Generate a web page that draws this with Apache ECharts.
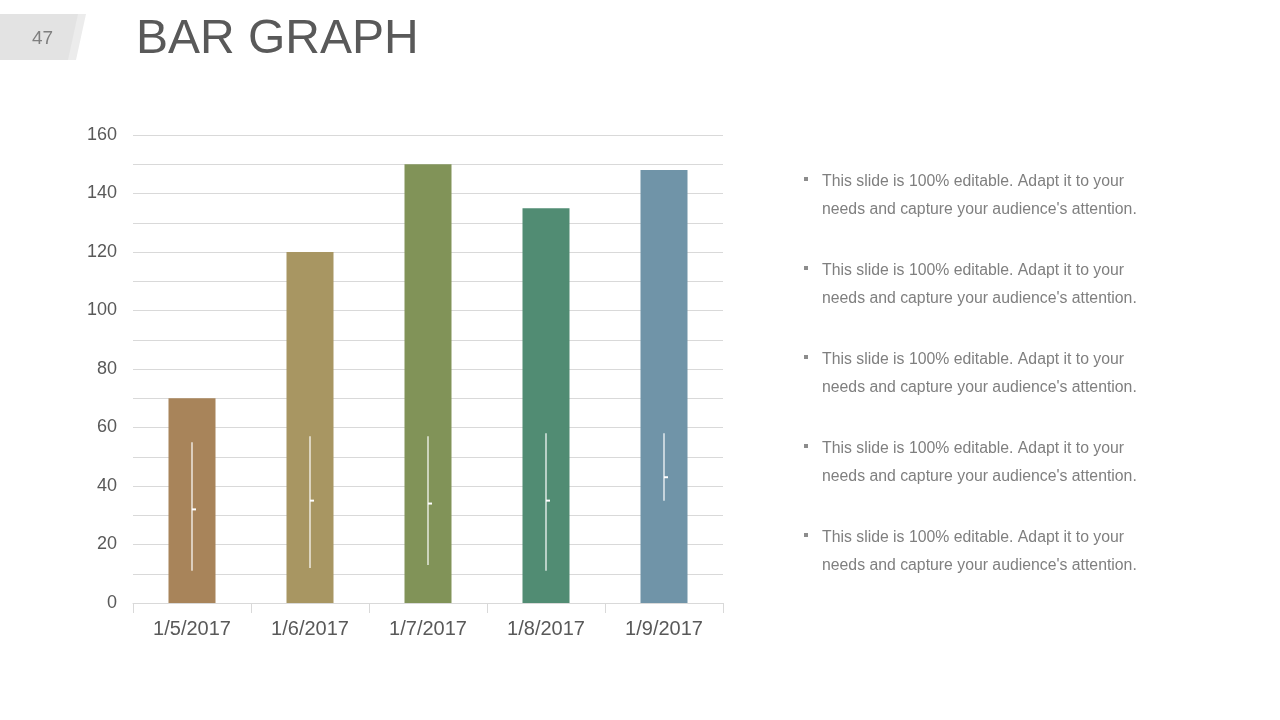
<!DOCTYPE html>
<html><head><meta charset="utf-8">
<script src="https://cdn.jsdelivr.net/npm/echarts@6/dist/echarts.min.js"></script>
<style>html,body{margin:0;padding:0;background:#fff}#c{width:1280px;height:720px}</style>
</head><body><div id="c"></div>
<script>
const categories = ['1/5/2017','1/6/2017','1/7/2017','1/8/2017','1/9/2017'];
const barValues = [70, 120, 150, 135, 148];
const highValues = [55, 57, 57, 58, 58];
const lowValues = [11, 12, 13, 11, 35];
const closeValues = [32, 35, 34, 35, 43];
const barColors = ['#A8845A','#A89662','#819358','#518C73','#7094A8'];
const yTicks = [0, 20, 40, 60, 80, 100, 120, 140, 160];
const bulletText = "This slide is 100% editable. Adapt it to your\nneeds and capture your audience's attention.";

const chart = echarts.init(document.getElementById('c'));
const font = '"Liberation Sans", Arial, sans-serif';

const graphics = [
  {type:'polygon', shape:{points:[[0,14],[80,14],[70,60],[0,60]]}, style:{fill:'#e3e3e3'}},
  {type:'polygon', shape:{points:[[78,14],[86,14],[76,60],[68,60]]}, style:{fill:'#ececec'}},
  {type:'text', left:32, top:29, style:{text:'47', fill:'#7f7f7f', font:'19px '+font}},
  {type:'text', left:136, top:16, style:{text:'BAR GRAPH', fill:'#595959', font:'48px '+font}}
];
for (let i = 0; i < 5; i++) {
  const y = 170 + i * 89;
  graphics.push({type:'rect', shape:{x:804, y:y+7, width:4, height:4}, style:{fill:'#8c8c8c'}});
  graphics.push({type:'text', left:822, top:y-2, style:{text:bulletText, fill:'#7f7f7f', font:'15.8px '+font, lineHeight:28}});
}

chart.setOption({
  animation:false,
  grid:{left:133, right:557, top:135, bottom:117},
  xAxis:{type:'category', data:categories,
    axisLine:{lineStyle:{color:'#d9d9d9'}},
    axisTick:{show:true, alignWithLabel:false, length:10, lineStyle:{color:'#d9d9d9'}},
    axisLabel:{color:'#595959', fontSize:20, fontFamily:font, margin:16}},
  yAxis:{type:'value', min:0, max:160, interval:10,
    axisLine:{show:false}, axisTick:{show:false},
    splitLine:{lineStyle:{color:'#d9d9d9'}},
    axisLabel:{color:'#595959', fontSize:18, fontFamily:font, margin:16,
      formatter:v => yTicks.includes(v) ? String(v) : ''}},
  graphic:graphics,
  series:[
    {type:'bar', barWidth:47, data:barValues.map((v,i)=>({value:v, itemStyle:{color:barColors[i]}}))},
    {type:'custom', z:5,
      data:categories.map((c,i)=>[i, highValues[i], lowValues[i], closeValues[i]]),
      renderItem:(params, api) => {
        const x = api.value(0);
        const hi = api.coord([x, api.value(1)]);
        const lo = api.coord([x, api.value(2)]);
        const cl = api.coord([x, api.value(3)]);
        return {type:'group', children:[
          {type:'line', shape:{x1:hi[0], y1:hi[1], x2:lo[0], y2:lo[1]}, style:{stroke:'#ffffff', lineWidth:1.2}},
          {type:'line', shape:{x1:cl[0], y1:cl[1], x2:cl[0]+4, y2:cl[1]}, style:{stroke:'#ffffff', lineWidth:2}}
        ]};
      }}
  ]
});
</script></body></html>
